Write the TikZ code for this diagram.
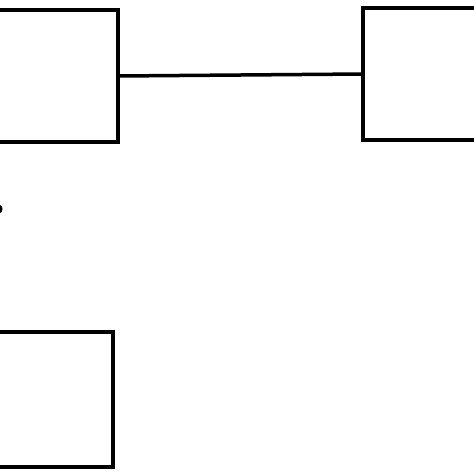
\documentclass[tikz,border=0pt]{standalone}
\begin{document}
\begin{tikzpicture}[x=1pt,y=-1pt,
  boxstyle/.style={draw=black, line width=4.5pt, rectangle, inner sep=0pt, outer sep=0pt},
  linkstyle/.style={draw=black, line width=3.5pt}]
\useasboundingbox (0,0) rectangle (474,474);
\clip (0,0) rectangle (474,474);
\fill[white] (0,0) rectangle (474,474);
\node[boxstyle, minimum width=148pt, minimum height=132pt] (a) at (44,76) {};
\node[boxstyle, minimum width=137pt, minimum height=132pt] (b) at (431.5,74) {};
\node[boxstyle, minimum width=143pt, minimum height=135pt] (c) at (41.5,399.5) {};
\draw[linkstyle] (a.east) -- (b.west);
\fill[black] (0,209) ellipse [x radius=2.5pt, y radius=4pt];
\end{tikzpicture}
\end{document}
